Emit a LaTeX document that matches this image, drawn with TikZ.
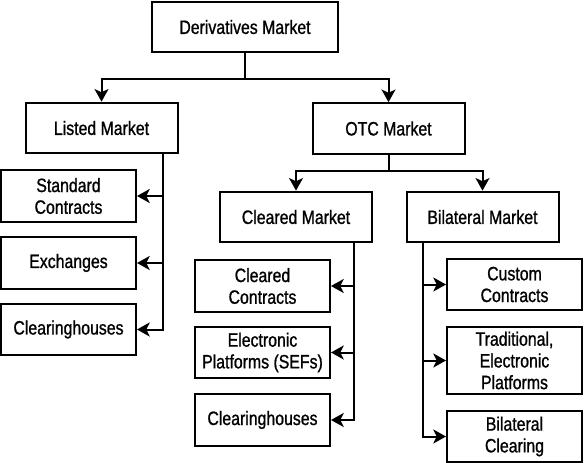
\documentclass[tikz,border=0pt]{standalone}
\usepackage{fontspec}
\setmainfont{Liberation Sans}[FakeStretch=0.82,FakeBold=1]
\usetikzlibrary{arrows.meta}

\tikzset{every picture/.style={line width=1.5pt}}
\tikzset{
  mktbox/.style={draw, align=center, inner sep=0.75pt, font=\fontsize{14.5}{16.3}\selectfont},
  topbox/.style={mktbox, minimum width=139.5pt, minimum height=37.5pt},
  midbox/.style={mktbox, minimum width=114pt, minimum height=38pt},
  leafbox/.style={mktbox, minimum width=101.25pt, minimum height=38.5pt},
  conn/.style={-{Stealth[length=9.5pt,width=10.5pt,inset=2.5pt]}}
}

\begin{document}
\begin{tikzpicture}[x=0.75pt,y=0.75pt,yscale=-1,xscale=1]
\useasboundingbox (0,0) rectangle (585,463);

%Top
\node [topbox] (dermkt) at (245,27) {Derivatives Market};

%Second row
\node [midbox] (listedmkt) at (101.5,128) {Listed Market};
\node [midbox] (otcmkt) at (388.5,128.5) {OTC Market};

%Listed children
\node [leafbox] (stdcon) at (68.5,196) {Standard\\Contracts};
\node [leafbox] (exch) at (68.5,263) {Exchanges};
\node [leafbox] (clhlisted) at (68.5,329.5) {Clearinghouses};

%OTC children
\node [midbox] (clearedmkt) at (296,217) {Cleared Market};
\node [midbox] (bilatmkt) at (482.5,217) {Bilateral Market};

%Cleared children
\node [leafbox] (clrcon) at (262.5,286) {Cleared\\Contracts};
\node [leafbox] (elecplat) at (262.5,352.5) {Electronic\\Platforms (SEFs)};
\node [leafbox] (clhcleared) at (262.5,420) {Clearinghouses};

%Bilateral children
\node [leafbox] (custcon) at (514.5,284.5) {Custom\\Contracts};
\node [leafbox, minimum height=50.25pt] (tradplat) at (514.5,360.5) {Traditional,\\Electronic\\Platforms};
\node [leafbox] (bilclear) at (514.5,436.5) {Bilateral\\Clearing};

%Trunk points
\coordinate (listedtrunk) at (163,154);
\coordinate (clrtrunk) at (354,242);
\coordinate (biltrunk) at (423,242);

%Connectors
\draw [conn] (dermkt.south) -- ++(0,26) -| (listedmkt.north);
\draw [conn] (dermkt.south) -- ++(0,26) -| (otcmkt.north);
\draw [conn] (otcmkt.south) -- ++(0,16) -| (clearedmkt.north);
\draw [conn] (otcmkt.south) -- ++(0,16) -| (bilatmkt.north);

\draw [conn] (listedtrunk) |- (stdcon.east);
\draw [conn] (listedtrunk) |- (exch.east);
\draw [conn] (listedtrunk) |- (clhlisted.east);

\draw [conn] (clrtrunk) |- (clrcon.east);
\draw [conn] (clrtrunk) |- (elecplat.east);
\draw [conn] (clrtrunk) |- (clhcleared.east);

\draw [conn] (biltrunk) |- (custcon.west);
\draw [conn] (biltrunk) |- (tradplat.west);
\draw [conn] (biltrunk) |- (bilclear.west);

\end{tikzpicture}
\end{document}
